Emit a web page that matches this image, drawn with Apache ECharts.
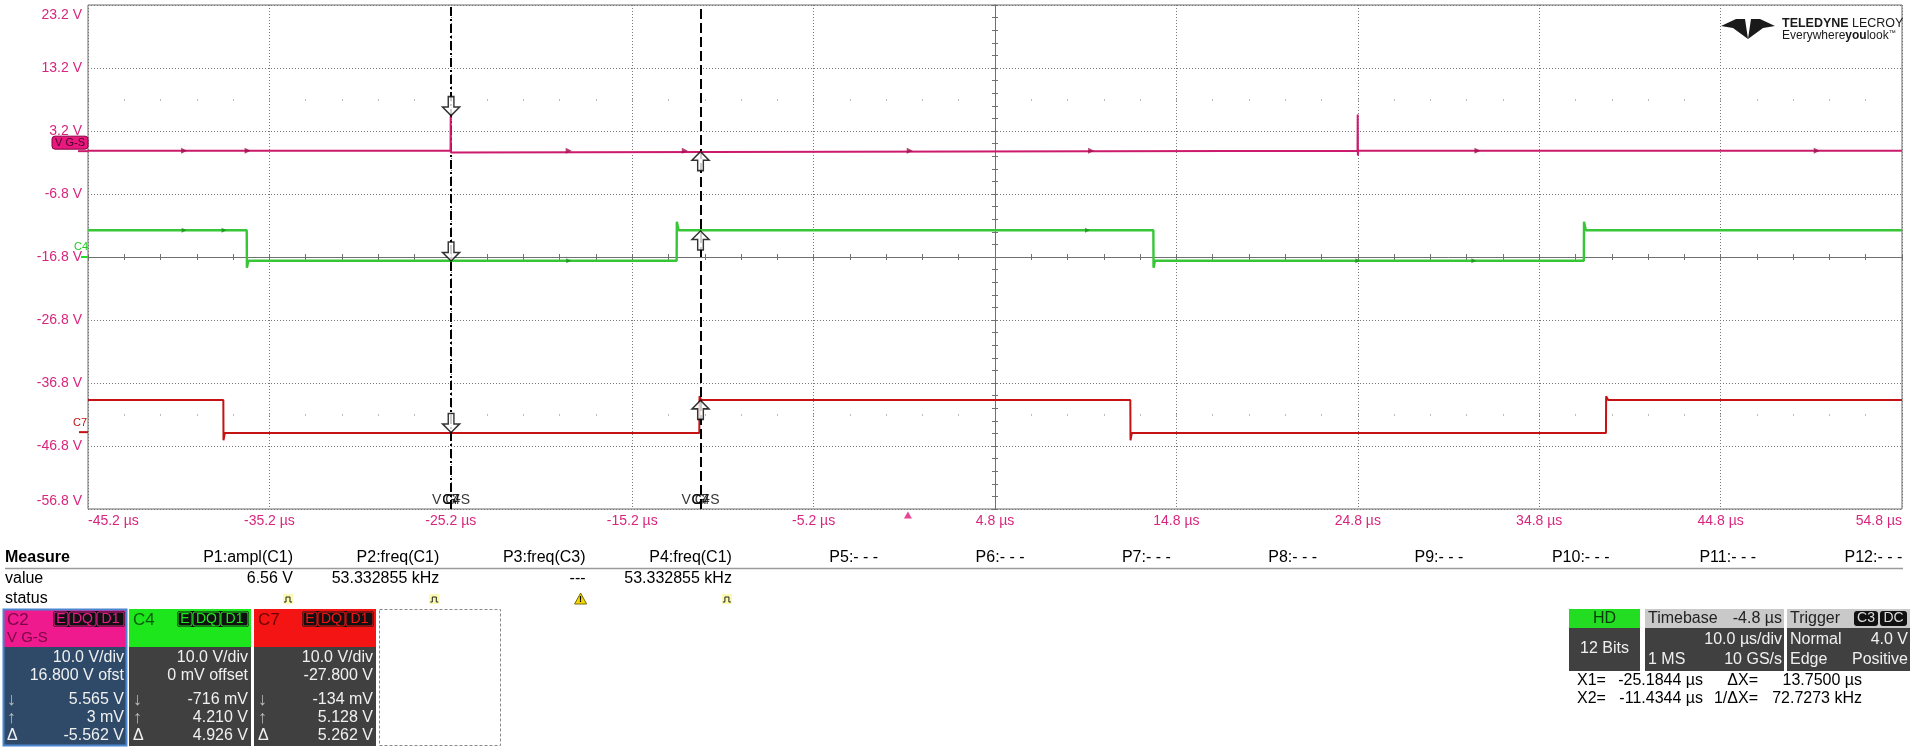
<!DOCTYPE html>
<html>
<head>
<meta charset="utf-8">
<script src="https://cdn.jsdelivr.net/npm/echarts@6.0.0/dist/echarts.min.js"></script>
<style>
html,body{margin:0;padding:0;background:#ffffff;overflow:hidden;}
#chart{width:1915px;height:747px;}
</style>
</head>
<body>
<div id="chart"></div>
<script>
// ===== data =====
const timeMin = -45.2, timeMax = 54.8, timeStep = 10, timeMinor = 2;   // µs
const voltMin = -56.8, voltMax = 23.2, voltStep = 10, voltMinor = 2;   // V (display scale)
const screenCenterVolt = -16.8;

// C2 (V G-S), magenta
const c2Times = [-45.2, -25.215, -25.205, -25.195, -25.185, 24.785, 24.795, 24.805, 24.82, 54.8];
const c2Volts = [0.05, 0.05, 5.5, -0.2, 0.05, 0.05, 5.8, -0.7, 0.05, 0.05];
const c2MarkTimes = [-39.9, -36.4, -18.7, -12.3, 0.1, 10.1, 31.4, 50.1];
const c2MarkVolts = [0.05, 0.05, 0.05, 0.05, 0.05, 0.05, 0.05, 0.05];

// C4, green
const c4Times = [-45.2, -36.45, -36.44, -36.36, -12.75, -12.74, -12.64, 13.53, 13.54, 13.62, 37.26, 37.27, 37.37, 54.8];
const c4Volts = [-12.55, -12.55, -18.5, -17.4, -17.4, -11.2, -12.55, -12.55, -18.5, -17.4, -17.4, -11.2, -12.55, -12.55];
const c4MarkTimes = [-39.9, -37.7, -18.7, 9.9, 24.8, 31.2];
const c4MarkVolts = [-12.55, -12.55, -17.4, -12.55, -17.4, -17.4];

// C7, red
const c7Times = [-45.2, -37.74, -37.73, -37.66, -11.5, -11.49, -11.4, 12.26, 12.27, 12.34, 38.48, 38.49, 38.6, 54.8];
const c7Volts = [-39.5, -39.5, -45.9, -44.75, -44.75, -38.9, -39.5, -39.5, -45.9, -44.75, -44.75, -38.9, -39.5, -39.5];

// cursors and channel readings
const cursorTimes = [-25.1844, -11.4344];
const c2Readings = [5.565, 0.003];
const c4Readings = [-0.716, 4.210];
const c7Readings = [-0.134, 5.128];
const c2Offset = 16.8, c4Offset = 0, c7Offset = -27.8;
const triggerTime = 0;

// measurement table
const measNames = ['P1:ampl(C1)','P2:freq(C1)','P3:freq(C3)','P4:freq(C1)','P5:- - -','P6:- - -','P7:- - -','P8:- - -','P9:- - -','P10:- - -','P11:- - -','P12:- - -'];
const measValues = ['6.56 V','53.332855 kHz','---','53.332855 kHz'];
const measStatus = ['ok','ok','warn','ok'];

// channel descriptor boxes
const chNames   = ['C2','C4','C7'];
const chLabels  = ['V G-S','',''];
const chScale   = ['10.0 V/div','10.0 V/div','10.0 V/div'];
const chOffsetT = ['16.800 V ofst','0 mV offset','-27.800 V'];
const chDown    = ['5.565 V','-716 mV','-134 mV'];
const chUp      = ['3 mV','4.210 V','5.128 V'];
const chDelta   = ['-5.562 V','4.926 V','5.262 V'];

// ===== helpers =====
const FONT = '"Liberation Sans", Arial, sans-serif';
const MAG = '#d8267c';
const C2COL = '#cc1a6c', C4COL = '#36c636', C7COL = '#c51212';
const disp = (reading, offset) => screenCenterVolt + reading + offset;
const pairs = (xs, ys) => xs.map((x, i) => [x, ys[i]]);

const chart = echarts.init(document.getElementById('chart'), null, {renderer: 'canvas'});

const downArrow = 'path://M6,0L12,0L12,11L18,11L9,20L0,11L6,11Z';
const upArrow = 'path://M9,0L18,9L12,9L12,20L6,20L6,9L0,9Z';

const tickAxis = (extra) => Object.assign({
  type: 'value', min: timeMin, max: timeMax, interval: timeMinor,
  axisLabel: {show: false}, splitLine: {show: false}
}, extra);

const option = {
  animation: false,
  backgroundColor: '#ffffff',
  grid: {left: 88, top: 5, width: 1814, height: 504, show: true, borderColor: '#6a6a6a', borderWidth: 1, backgroundColor: '#ffffff'},
  xAxis: [
    { type: 'value', min: timeMin, max: timeMax, interval: timeStep,
      axisLine: {show: false, onZero: false}, axisTick: {show: false},
      axisLabel: {color: MAG, fontSize: 14, fontFamily: FONT, margin: 5,
        formatter: v => v.toFixed(1) + ' µs', alignMinLabel: 'left', alignMaxLabel: 'right'},
      splitLine: {show: true, lineStyle: {type: [1, 2], color: '#777', width: 1}} },
    tickAxis({axisLine: {show: true, onZero: true, onZeroAxisIndex: 1, lineStyle: {color: '#707070', width: 1}},
      axisTick: {show: true, inside: true, length: 3, lineStyle: {color: '#707070'}}}),
    tickAxis({axisLine: {show: false, onZero: true, onZeroAxisIndex: 1},
      axisTick: {show: true, inside: false, length: 3, lineStyle: {color: '#707070'}}}),
    {type: 'value', min: -5, max: 5, show: false},
    tickAxis({axisLine: {show: false, onZero: true, onZeroAxisIndex: 4},
      axisTick: {show: true, inside: true, length: 1, lineStyle: {color: '#777', width: 1}}}),
    tickAxis({axisLine: {show: false, onZero: true, onZeroAxisIndex: 5},
      axisTick: {show: true, inside: true, length: 1, lineStyle: {color: '#777', width: 1}}})
  ],
  yAxis: [
    { type: 'value', min: voltMin, max: voltMax, interval: voltStep,
      axisLine: {show: false, onZero: false}, axisTick: {show: false},
      axisLabel: {color: MAG, fontSize: 14, fontFamily: FONT, margin: 6,
        formatter: v => {
          const s = v.toFixed(1) + ' V';
          if (Math.abs(v - voltMax) < 1e-6) return '{top|' + s + '}';
          if (Math.abs(v - voltMin) < 1e-6) return '{bot|' + s + '}';
          return s;
        },
        rich: {
          top: {padding: [20, 0, 0, 0], color: MAG, fontSize: 14, fontFamily: FONT},
          bot: {padding: [0, 0, 15, 0], color: MAG, fontSize: 14, fontFamily: FONT}
        }},
      splitLine: {show: true, lineStyle: {type: [1, 2], color: '#777', width: 1}} },
    {type: 'value', min: -4, max: 4, show: false},
    { type: 'value', min: voltMin, max: voltMax, interval: voltMinor,
      axisLine: {show: true, onZero: true, onZeroAxisIndex: 3, lineStyle: {color: '#707070', width: 1}},
      axisTick: {show: true, inside: true, length: 3, lineStyle: {color: '#707070'}},
      axisLabel: {show: false}, splitLine: {show: false} },
    { type: 'value', min: voltMin, max: voltMax, interval: voltMinor,
      axisLine: {show: false, onZero: true, onZeroAxisIndex: 3},
      axisTick: {show: true, inside: false, length: 3, lineStyle: {color: '#707070'}},
      axisLabel: {show: false}, splitLine: {show: false} },
    {type: 'value', min: -6.5, max: 1.5, show: false},
    {type: 'value', min: -1.5, max: 6.5, show: false}
  ],
  series: [
    { name: 'C7', type: 'line', data: pairs(c7Times, c7Volts), symbol: 'none', z: 4,
      lineStyle: {color: C7COL, width: 2}, silent: true },
    { name: 'C4', type: 'line', data: pairs(c4Times, c4Volts), symbol: 'none', z: 4,
      lineStyle: {color: C4COL, width: 2.4}, silent: true },
    { name: 'C2', type: 'line', data: pairs(c2Times, c2Volts), symbol: 'none', z: 5,
      lineStyle: {color: C2COL, width: 2}, silent: true,
      markLine: { silent: true, symbol: ['none', 'none'], label: {show: false},
        lineStyle: {color: '#000', width: 2},
        data: [
          {xAxis: cursorTimes[0], lineStyle: {type: [9, 3, 2, 3], color: '#000', width: 2}},
          {xAxis: cursorTimes[1], lineStyle: {type: [10, 4], color: '#000', width: 2}}
        ] } },
    { name: 'c2marks', type: 'scatter', data: pairs(c2MarkTimes, c2MarkVolts), symbol: 'triangle',
      symbolRotate: -90, symbolSize: 6, itemStyle: {color: '#a0104f'}, z: 6, silent: true },
    { name: 'c4marks', type: 'scatter', data: pairs(c4MarkTimes, c4MarkVolts), symbol: 'triangle',
      symbolRotate: -90, symbolSize: 5, itemStyle: {color: '#1f8f1f'}, z: 6, silent: true },
    { name: 'x1arrows', type: 'scatter', silent: true, z: 10,
      data: [[cursorTimes[0], disp(c2Readings[0], c2Offset)], [cursorTimes[0], disp(c4Readings[0], c4Offset)], [cursorTimes[0], disp(c7Readings[0], c7Offset)]],
      symbol: downArrow, symbolSize: [17, 19], symbolOffset: [0, -10],
      itemStyle: {color: '#ffffff', borderColor: '#000', borderWidth: 1.5} },
    { name: 'x2arrows', type: 'scatter', silent: true, z: 10,
      data: [[cursorTimes[1], disp(c2Readings[1], c2Offset)], [cursorTimes[1], disp(c4Readings[1], c4Offset)], [cursorTimes[1], disp(c7Readings[1], c7Offset)]],
      symbol: upArrow, symbolSize: [17, 19], symbolOffset: [0, 10],
      itemStyle: {color: '#ffffff', borderColor: '#000', borderWidth: 1.5} },
    { name: 'trigger', type: 'scatter', silent: true, clip: false, z: 10,
      data: [[triggerTime, voltMin]], symbol: 'triangle', symbolSize: [8, 7], symbolOffset: [0, 6],
      itemStyle: {color: '#e0187a'} },
    { name: 'cursorTags', type: 'scatter', silent: true, z: 11, symbolSize: 0,
      data: [[cursorTimes[0], voltMin + 1.45], [cursorTimes[1], voltMin + 1.45]],
      label: {show: true, position: 'inside', formatter: 'V G-S', color: '#000', fontSize: 14, fontFamily: FONT} },
    { name: 'cursorTags2', type: 'scatter', silent: true, z: 12, symbolSize: 0,
      data: [[cursorTimes[0], voltMin + 1.45], [cursorTimes[1], voltMin + 1.45]],
      label: {show: true, position: 'inside', formatter: 'C4', color: '#000', fontSize: 14, fontFamily: FONT} },
    { name: 'cursorTags3', type: 'scatter', silent: true, z: 12, symbolSize: 0,
      data: [[cursorTimes[0], voltMin + 1.45], [cursorTimes[1], voltMin + 1.45]],
      label: {show: true, position: 'inside', formatter: 'C7', color: '#000', fontSize: 14, fontFamily: FONT} }
  ]
};
chart.setOption(option);

// ===== overlay: channel ground badges, logo, measurement panel =====
function T(x, y, text, o) {
  o = o || {};
  const align = o.align || 'left', va = o.va || 'middle';
  return {type: 'text', z: 100, silent: true,
    style: {x: x, y: y, text: text, fill: o.color || '#000',
      font: (o.weight || 'normal') + ' ' + (o.size || 16) + 'px ' + FONT,
      textAlign: align, textVerticalAlign: va, align: align, verticalAlign: va}};
}
function R(x, y, w, h, fill, o) {
  o = o || {};
  return {type: 'rect', z: o.z || 95, silent: true, shape: {x: x, y: y, width: w, height: h, r: o.r || 0},
    style: {fill: fill, stroke: o.stroke || null, lineWidth: o.lw || 1, lineDash: o.dash || null}};
}
function L(x1, y1, x2, y2, color, w) {
  return {type: 'line', z: 96, silent: true, shape: {x1: x1, y1: y1, x2: x2, y2: y2}, style: {stroke: color, lineWidth: w || 1}};
}
const px = (t, v) => chart.convertToPixel({xAxisIndex: 0, yAxisIndex: 0}, [t, v]);
const G = [];

// channel ground markers at the left edge
const gx = px(timeMin, 0)[0];
const yC2 = px(timeMin, disp(0, c2Offset))[1];
const yC4 = px(timeMin, disp(0, c4Offset))[1];
const yC7 = px(timeMin, disp(0, c7Offset))[1];
G.push(L(gx - 10, yC2, gx, yC2, C2COL, 2));
G.push(R(gx - 36, yC2 - 15, 36, 13, '#e8187f', {r: 3, stroke: '#8a0040', lw: 1, z: 97}));
G.push(T(gx - 18, yC2 - 8.5, 'V G-S', {size: 11, color: '#4a0026', align: 'center'}));
G.push(L(gx - 7, yC4, gx, yC4, '#22dd22', 2));
G.push(T(gx - 14, yC4 - 10, 'C4', {size: 11, color: '#22cc22'}));
G.push(L(gx - 9, yC7, gx, yC7, C7COL, 2));
G.push(T(gx - 15, yC7 - 9, 'C7', {size: 11, color: C7COL}));

// logo
G.push({type: 'polygon', z: 100, silent: true, shape: {points: [[1721, 26], [1736, 19], [1745, 19], [1748, 39], [1733, 28]]}, style: {fill: '#1a1a1a'}});
G.push({type: 'polygon', z: 100, silent: true, shape: {points: [[1775, 26], [1760, 19], [1751, 19], [1748, 39], [1763, 28]]}, style: {fill: '#1a1a1a'}});
G.push({type: 'text', z: 100, silent: true, style: {x: 1782, y: 24, text: '{b|TELEDYNE} {n|LECROY}', textVerticalAlign: 'middle', verticalAlign: 'middle',
  rich: {b: {font: 'bold 12.5px ' + FONT, fill: '#1a1a1a', color: '#1a1a1a'}, n: {font: 'normal 12.5px ' + FONT, fill: '#1a1a1a', color: '#1a1a1a'}}}});
G.push({type: 'text', z: 100, silent: true, style: {x: 1782, y: 36, text: '{n|Everywhere}{b|you}{n|look}{s|™}', textVerticalAlign: 'middle', verticalAlign: 'middle',
  rich: {b: {font: 'bold 12px ' + FONT, fill: '#1a1a1a', color: '#1a1a1a'}, n: {font: 'normal 12px ' + FONT, fill: '#1a1a1a', color: '#1a1a1a'}, s: {font: 'normal 7px ' + FONT, fill: '#1a1a1a', color: '#1a1a1a', verticalAlign: 'top'}}}});

// measurement table
G.push(T(5, 558, 'Measure', {weight: 'bold'}));
measNames.forEach((n, i) => G.push(T(293 + 146.3 * i, 558, n, {align: 'right'})));
G.push(L(5, 568.5, 1903, 568.5, '#9a9a9a', 1.5));
G.push(T(5, 579, 'value'));
G.push(T(5, 599, 'status'));
measValues.forEach((v, i) => G.push(T(293 + 146.3 * i, 579, v, {align: 'right'})));
measStatus.forEach((s, i) => {
  const cx = 288 + 146.3 * i, cy = 599;
  if (s === 'ok') {
    G.push(R(cx - 5, cy - 5, 10, 10, '#fafab0', {z: 97}));
    G.push({type: 'polyline', z: 98, silent: true, shape: {points: [[cx - 4, cy + 3], [cx - 2, cy + 3], [cx - 2, cy - 2], [cx + 2, cy - 2], [cx + 2, cy + 3], [cx + 4, cy + 3]]}, style: {stroke: '#222', lineWidth: 1, fill: null}});
  } else {
    G.push({type: 'polygon', z: 98, silent: true, shape: {points: [[cx, cy - 6], [cx + 6, cy + 5], [cx - 6, cy + 5]]}, style: {fill: '#f0d800', stroke: '#7a6a00', lineWidth: 1}});
    G.push(T(cx, cy + 1, '!', {size: 9, weight: 'bold', align: 'center'}));
  }
});

// channel boxes
const boxX = [3, 129, 254];
const boxW = [124, 122, 122];
const headCol = ['#ee1a8e', '#1de61d', '#f41414'];
const headTxt = ['#7a0845', '#0b5a0b', '#700000'];
const badgeTxt = ['#ee1a8e', '#1de61d', '#f41414'];
const bodyCol = ['#2e4a68', '#404040', '#404040'];
chNames.forEach((n, i) => {
  const x = boxX[i], w = boxW[i], r = x + w;
  G.push(R(x, 609, w, 38, headCol[i]));
  G.push(R(x, 647, w, 99, bodyCol[i]));
  if (i === 0) G.push(R(x + 0.5, 609.5, w - 1, 136, null, {stroke: '#4a86d0', lw: 2, z: 99}));
  G.push(T(x + 4, 620, n, {color: headTxt[i], size: 17}));
  if (chLabels[i]) G.push(T(x + 4, 638, chLabels[i], {color: headTxt[i], size: 15}));
  G.push(R(r - 74, 611, 72, 16, '#111', {r: 3, z: 97}));
  [['E', r - 73, 14], ['DQ', r - 58, 27], ['D1', r - 30, 27]].forEach(b => {
    G.push(R(b[1], 612, b[2], 14, null, {r: 2, stroke: badgeTxt[i], lw: 1, z: 98}));
    G.push(T(b[1] + b[2] / 2, 619.5, b[0], {color: badgeTxt[i], size: 14, align: 'center'}));
  });
  G.push(T(r - 3, 658, chScale[i], {color: '#f0f0f0', align: 'right'}));
  G.push(T(r - 3, 676, chOffsetT[i], {color: '#f0f0f0', align: 'right'}));
  G.push(T(x + 4, 700, '↓', {color: '#bdbdbd', size: 18}));
  G.push(T(r - 3, 700, chDown[i], {color: '#f0f0f0', align: 'right'}));
  G.push(T(x + 4, 718, '↑', {color: '#bdbdbd', size: 18}));
  G.push(T(r - 3, 718, chUp[i], {color: '#f0f0f0', align: 'right'}));
  G.push(T(x + 4, 736, 'Δ', {color: '#f0f0f0'}));
  G.push(T(r - 3, 736, chDelta[i], {color: '#f0f0f0', align: 'right'}));
});
G.push(R(379.5, 609.5, 121, 136, null, {stroke: '#8a8a8a', lw: 1, dash: [3, 2]}));

// acquisition boxes (bottom right)
G.push(R(1569, 609, 71, 19, '#22dd22'));
G.push(T(1604.5, 618.5, 'HD', {color: '#0a3a0a', align: 'center'}));
G.push(R(1569, 628, 71, 43, '#404040'));
G.push(T(1604.5, 649, '12 Bits', {color: '#f0f0f0', align: 'center'}));
G.push(R(1645, 609, 139, 19, '#c9c9c9'));
G.push(T(1648, 618.5, 'Timebase', {color: '#222'}));
G.push(T(1782, 618.5, '-4.8 µs', {color: '#222', align: 'right'}));
G.push(R(1645, 628, 139, 43, '#404040'));
G.push(T(1782, 640, '10.0 µs/div', {color: '#f0f0f0', align: 'right'}));
G.push(T(1648, 660, '1 MS', {color: '#f0f0f0'}));
G.push(T(1782, 660, '10 GS/s', {color: '#f0f0f0', align: 'right'}));
G.push(R(1787, 609, 123, 19, '#c9c9c9'));
G.push(T(1790, 618.5, 'Trigger', {color: '#222'}));
G.push(R(1854, 611, 24, 15, '#111', {r: 3, z: 97}));
G.push(T(1866, 618.5, 'C3', {color: '#dcdcdc', size: 14, align: 'center'}));
G.push(R(1880, 611, 27, 15, '#111', {r: 3, z: 97}));
G.push(T(1893.5, 618.5, 'DC', {color: '#dcdcdc', size: 14, align: 'center'}));
G.push(R(1787, 628, 123, 43, '#404040'));
G.push(T(1790, 640, 'Normal', {color: '#f0f0f0'}));
G.push(T(1908, 640, '4.0 V', {color: '#f0f0f0', align: 'right'}));
G.push(T(1790, 660, 'Edge', {color: '#f0f0f0'}));
G.push(T(1908, 660, 'Positive', {color: '#f0f0f0', align: 'right'}));

// cursor readout
G.push(T(1577, 681, 'X1='));
G.push(T(1703, 681, '-25.1844 µs', {align: 'right'}));
G.push(T(1758, 681, 'ΔX=', {align: 'right'}));
G.push(T(1862, 681, '13.7500 µs', {align: 'right'}));
G.push(T(1577, 699, 'X2='));
G.push(T(1703, 699, '-11.4344 µs', {align: 'right'}));
G.push(T(1758, 699, '1/ΔX=', {align: 'right'}));
G.push(T(1862, 699, '72.7273 kHz', {align: 'right'}));

chart.setOption({graphic: {elements: G}});
</script>
</body>
</html>
